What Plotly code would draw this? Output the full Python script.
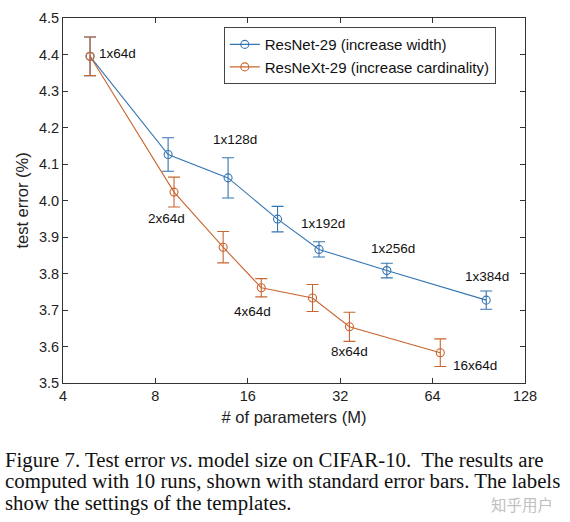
import math

import plotly.graph_objects as go

# parameters (M) and test error (%)
resnet_params = [4.9, 8.8, 13.8, 20.0, 27.3, 45.4, 95.7]
resnet_error = [4.395, 4.126, 4.062, 3.949, 3.866, 3.808, 3.727]
resnet_se = [0.053, 0.046, 0.055, 0.035, 0.021, 0.020, 0.025]

resnext_params = [4.9, 9.2, 13.3, 17.7, 26.0, 34.3, 67.8]
resnext_error = [4.395, 4.023, 3.872, 3.761, 3.733, 3.654, 3.583]
resnext_se = [0.053, 0.041, 0.043, 0.025, 0.037, 0.040, 0.038]

# template labels and where they sit (data units)
label_text = ["1x64d", "1x128d", "1x192d", "1x256d", "1x384d", "2x64d", "4x64d", "8x64d", "16x64d"]
label_x = [5.16, 14.5, 28.1, 47.7, 96.1, 8.71, 16.6, 34.4, 88.0]
label_y = [4.402, 4.166, 3.937, 3.869, 3.793, 3.951, 3.697, 3.587, 3.547]

x_ticks = [4, 8, 16, 32, 64, 128]
y_ticks = [3.5, 3.6, 3.7, 3.8, 3.9, 4.0, 4.1, 4.2, 4.3, 4.4, 4.5]

caption = [
    "Figure 7. Test error <i>vs</i>. model size on CIFAR-10.  The results are",
    "computed with 10 runs, shown with standard error bars. The labels",
    "show the settings of the templates.",
]

BLUE = "#3575b3"
ORANGE = "#c9652f"
SANS = "Helvetica, Liberation Sans, Arial, sans-serif"


def series(name, xs, ys, err, color):
    return go.Scatter(
        x=xs, y=ys, name=name, mode="lines+markers",
        line=dict(color=color, width=1.1),
        marker=dict(symbol="circle-open", size=8, color=color, line=dict(width=1.1)),
        error_y=dict(type="data", array=err, color=color, thickness=1.1, width=6),
    )


fig = go.Figure()
fig.add_trace(series("ResNet-29 (increase width)", resnet_params, resnet_error, resnet_se, BLUE))
fig.add_trace(series("ResNeXt-29 (increase cardinality)", resnext_params, resnext_error, resnext_se, ORANGE))

for i, (text, lx, ly) in enumerate(zip(label_text, label_x, label_y)):
    fig.add_annotation(
        x=math.log10(lx), y=ly, text=text, showarrow=False,
        xanchor="left" if i == 0 else "center", yanchor="middle",
        font=dict(family=SANS, size=13.5, color="#111"),
    )

for i, line in enumerate(caption):
    fig.add_annotation(
        xref="paper", yref="paper", x=-0.13, y=-0.21 - i * 0.0595, text=line,
        showarrow=False, xanchor="left", yanchor="middle",
        font=dict(family="Liberation Serif, Times New Roman, serif", size=20.8, color="#111"),
    )

fig.add_annotation(
    xref="paper", yref="paper", x=1.065, y=-0.332, text="知乎用户", showarrow=False,
    xanchor="right", yanchor="middle",
    font=dict(family="Noto Sans CJK SC", size=15.5, color="#c0c0c0"),
)

axis_common = dict(
    showline=True, linecolor="#333", linewidth=1, mirror="ticks",
    ticks="inside", ticklen=5, tickcolor="#333", showgrid=False, zeroline=False,
    tickfont=dict(family=SANS, size=14.5, color="#222"), automargin=False,
)

fig.update_layout(
    width=570, height=522,
    margin=dict(l=63, r=45, t=18, b=139),
    paper_bgcolor="white", plot_bgcolor="white",
    showlegend=True,
    legend=dict(
        x=0.348, y=0.975, xanchor="left", yanchor="top",
        bordercolor="#444", borderwidth=1, bgcolor="white",
        font=dict(family=SANS, size=15, color="#111"),
        itemwidth=30, tracegroupgap=0,
    ),
    xaxis=dict(
        type="log", range=[math.log10(4), math.log10(128)],
        tickvals=x_ticks, ticktext=[str(v) for v in x_ticks],
        title=dict(text="# of parameters (M)", font=dict(family=SANS, size=16.5, color="#222"), standoff=8),
        **axis_common,
    ),
    yaxis=dict(
        range=[3.5, 4.5], tickvals=y_ticks, tickformat=".1f",
        title=dict(text="test error (%)", font=dict(family=SANS, size=16.5, color="#222"), standoff=6),
        **axis_common,
    ),
)

# the page's default body margin would push the figure 8px off
fig.write_html(
    "out.html",
    config={"displayModeBar": False},
    post_script="document.body.style.margin='0';",
)
